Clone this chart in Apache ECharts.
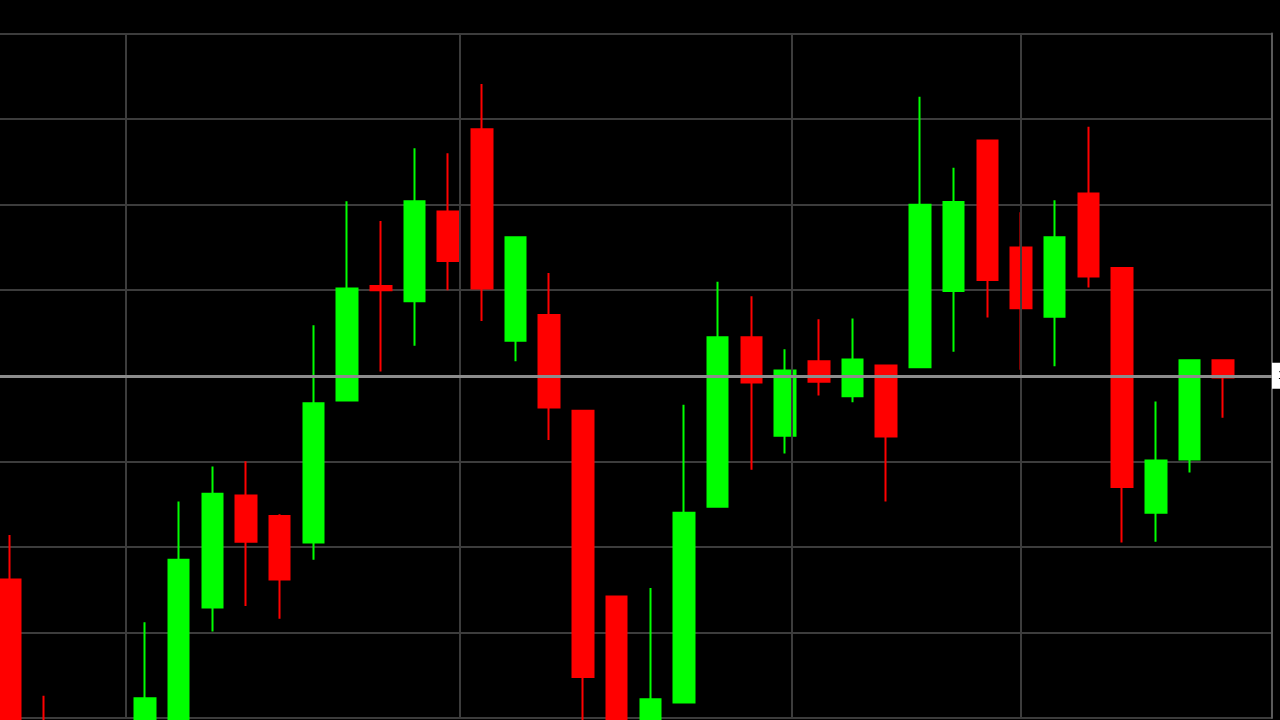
<!DOCTYPE html>
<html>
<head>
<meta charset="utf-8">
<style>
html,body{margin:0;padding:0;background:#000;}
#chart{width:1280px;height:720px;}
</style>
<script src="https://cdn.jsdelivr.net/npm/echarts@6/dist/echarts.min.js"></script>
</head>
<body>
<div id="chart"></div>
<script>
// bar positions (index along the time axis)
const barIndex = [0,1,2,3,4,5,6,7,8,9,10,11,12,13,14,15,16,17,18,19,20,21,22,23,24,25,26,27,28,29,30,31,32,33,34,35,36];
const openVals  = [101.62, 99.85, 99.30, 98.70, 99.40, 99.60, 101.29, 102.60, 102.36, 102.05, 103.71, 105.05, 104.87, 105.92, 106.88, 104.41, 104.71, 103.59, 101.42, 99.60, 100.18, 102.47, 104.45, 103.30, 104.17, 103.76, 104.12, 104.10, 104.99, 106.75, 105.50, 104.69, 106.13, 105.26, 102.40, 103.02, 104.18];
const closeVals = [ 99.40, 99.20, 98.70, 99.50,100.23,101.85, 102.62, 102.06, 101.62, 103.68, 105.02, 105.00, 106.04, 105.34, 105.02, 105.62, 103.63, 100.48,  99.70,100.22, 102.40, 104.45, 103.92, 104.06, 103.93, 104.19, 103.29, 106.00, 106.03, 105.12, 104.79, 105.62, 105.16, 102.70, 103.01, 104.18, 103.98];
const lowVals   = [ 99.10, 98.90, 98.40, 98.50, 99.20, 99.40, 101.01, 101.31, 101.16, 101.85, 103.71, 104.05, 104.35, 105.00, 104.64, 104.17, 103.25,  99.80,  99.40, 99.40, 100.18, 102.47, 102.90, 103.09, 103.77, 103.69, 102.53, 104.10, 104.28, 104.68, 104.07, 104.11, 105.03, 102.05, 102.06, 102.87, 103.51];
const highVals  = [102.14,100.26, 99.80, 99.85,101.12,102.53, 102.94, 103.00, 102.38, 104.59, 106.04, 105.81, 106.66, 106.60, 107.41, 105.62, 105.20, 103.59, 101.42,101.52, 103.66, 105.10, 104.93, 104.31, 104.66, 104.67, 104.12, 107.26, 106.43, 106.75, 105.91, 106.05, 106.91, 105.26, 103.70, 104.18, 104.18];
// vertical session separators (in bar-index units)
const sessionBreaks = [3.44, 13.35, 23.2, 30.0];
// current price line
const lastPrice = 104;
const priceMin = 100, priceMax = 108, priceStep = 1;

const candleData = barIndex.map((x, i) => [x, openVals[i], closeVals[i], lowVals[i], highVals[i]]);

const chart = echarts.init(document.getElementById('chart'));
chart.setOption({
  backgroundColor: '#000',
  animation: false,
  grid: {left: 0, right: 8, top: 33.5, bottom: 2},
  xAxis: {
    type: 'value', min: -0.3, max: 37.45,
    axisLine: {show: false}, axisTick: {show: false}, axisLabel: {show: false},
    splitLine: {show: false}
  },
  yAxis: {
    type: 'value', position: 'right', min: priceMin, max: priceMax, interval: priceStep,
    axisLine: {show: true, onZero: false, lineStyle: {color: '#5a5a5a', width: 2}},
    axisTick: {show: false}, axisLabel: {show: false},
    splitLine: {show: true, lineStyle: {color: '#3c3c3c', width: 2}}
  },
  series: [{
    type: 'candlestick',
    data: candleData,
    encode: {x: 0, y: [1, 2, 3, 4]},
    barWidth: 21,
    itemStyle: {
      color: '#00ff00', color0: '#ff0000',
      borderColor: '#00ff00', borderColor0: '#ff0000', borderWidth: 2
    },
    markLine: {
      silent: true, symbol: 'none', animation: false,
      data: [
        ...sessionBreaks.map(v => ({xAxis: v, lineStyle: {color: '#3c3c3c', width: 2, type: 'solid'}, label: {show: false}})),
        {yAxis: lastPrice, lineStyle: {color: '#8c8c8c', width: 3, type: 'solid'},
         label: {show: true, position: 'end', formatter: lastPrice.toFixed(2), color: '#000', backgroundColor: '#fff', padding: [7, 6], distance: 0, fontSize: 12}}
      ]
    },
    z: 3
  }]
});
</script>
</body>
</html>
